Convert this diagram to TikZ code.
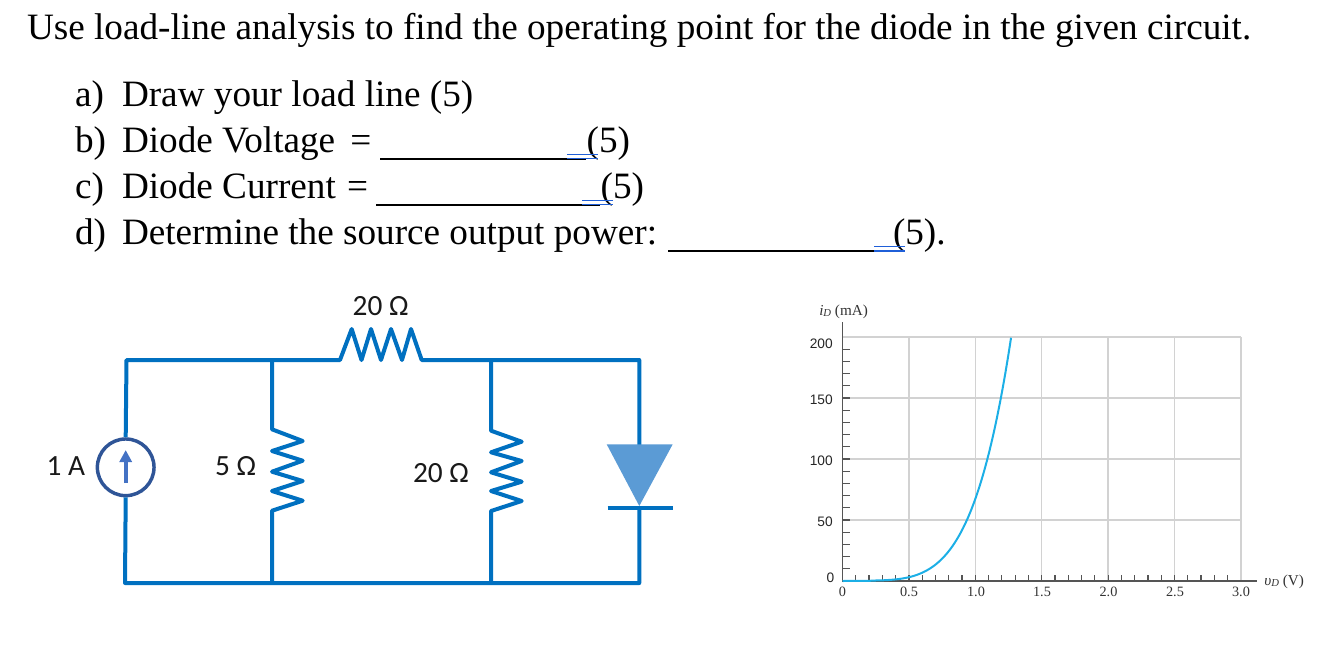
\documentclass[tikz,border=0pt]{standalone}
\usepackage{fontspec}
\setmainfont{Liberation Serif}
\newfontfamily\calfont{Carlito}
\newfontfamily\helvfont{Liberation Sans}
\usetikzlibrary{arrows.meta}
\definecolor{wireblue}{HTML}{0070C0}
\definecolor{ringblue}{HTML}{2F5597}
\definecolor{arrowblue}{HTML}{4472C4}
\definecolor{diodeblue}{HTML}{5B9BD5}
\definecolor{proofblue}{HTML}{1F5FD8}
\definecolor{gridgray}{HTML}{D2D2D2}
\definecolor{axisgray}{HTML}{555555}
\definecolor{curveblue}{HTML}{1CAFE6}
\tikzset{
  wire/.style={draw=wireblue,line width=3pt,line join=round},
  headline/.style={anchor=base west,inner sep=0pt,outer sep=0pt,font=\fontsize{27.9}{32}\selectfont},
  blank/.style={draw=black,line width=1.2pt},
  proof/.style={draw=proofblue,line width=0.8pt},
  cirlabel/.style={anchor=base west,inner sep=0pt,outer sep=0pt,font=\calfont\fontsize{22}{26}\selectfont,text=black!90},
  gridline/.style={draw=gridgray,line width=1.1pt},
  axisline/.style={draw=axisgray,line width=1.1pt},
  ylab/.style={anchor=base east,inner sep=0pt,font=\helvfont\fontsize{10.3}{12}\selectfont,text=black!85},
  xlab/.style={anchor=base,inner sep=0pt,font=\fontsize{10.7}{12}\selectfont,text=black!80},
  axlab/.style={anchor=base west,inner sep=0pt,font=\fontsize{11.4}{13}\selectfont,text=black!80},
}
\begin{document}
\begin{tikzpicture}[x=0.75pt,y=-0.75pt]
\useasboundingbox (0,0) rectangle (1340,658);
% ---------- text ----------
\node[headline] (title) at (27,39) {Use load-line analysis to find the operating point for the diode in the given circuit.};
\node[headline] (la) at (75,106) {a)};
\node[headline] (ta) at (122,106) {Draw your load line (5)};
\node[headline] (lb) at (75,152) {b)};
\node[headline] (tb) at (122,152) {Diode Voltage\hspace{4.5pt} =};
\node[headline] (pb) at (586.7,152) {(5)};
\node[headline] (lc) at (75,198) {c)};
\node[headline] (tc) at (122,198) {Diode Current\hspace{1.5pt} =};
\node[headline] (pc) at (600.7,198) {(5)};
\node[headline] (ld) at (75,244) {d)};
\node[headline] (td) at (122,244) {Determine the source output power:};
\node[headline] (pd) at (893,244) {(5).};
% blanks
\draw[blank] (380,159) -- (586,159);
\draw[blank] (376,205) -- (600,205);
\draw[blank] (668,251) -- (892.7,251);
\draw[proof] (567,154.3) -- (597.7,154.3) (567,158.7) -- (597.7,158.7);
\draw[proof] (582,200.3) -- (612.7,200.3) (582,204.7) -- (612.7,204.7);
\draw[proof] (874,246.3) -- (905,246.3) (874,251) -- (905,251);
% ---------- circuit ----------
\coordinate (tl) at (126.5,360);
\coordinate (bl) at (125,583);
\coordinate (j1t) at (272,360);
\coordinate (j1b) at (272,583);
\coordinate (j2t) at (491,360);
\coordinate (j2b) at (491,583);
\coordinate (tr) at (639.3,360);
\coordinate (br) at (639.3,583);
\coordinate (rta) at (340,360);
\coordinate (rtb) at (421.7,360);
\node[circle,draw=ringblue,line width=2.6pt,minimum size=42.5pt,inner sep=0pt] (src) at (125.7,467.3) {};
\coordinate (arrb) at (125.7,483);
\coordinate (arrt) at (125.7,450);
% wires
\draw[wire] (src.north) -- (tl) -- (rta)
  -- (351.7,329) -- (361.5,360) -- (371,329) -- (381,360) -- (391,329) -- (402,360) -- (411,329)
  -- (rtb) -- (tr) -- (639.3,445);
\draw[wire] (src.south) -- (bl) -- (br) -- (639.3,506);
\draw[wire] (j1t) -- (272,429.3) -- (302.7,441) -- (272,451) -- (302.7,460.7) -- (272,471.7) -- (302.7,481) -- (272,491) -- (302.7,500.7) -- (272,510.7) -- (j1b);
\draw[wire] (j2t) -- (491,430.7) -- (521.7,441.7) -- (491,452.3) -- (521.7,461) -- (491,472.3) -- (521.7,481.7) -- (491,491) -- (521.7,501) -- (491,511) -- (j2b);
% source arrow
\draw[draw=arrowblue,line width=3pt,-{Triangle[length=9pt,width=9pt]}] (arrb) -- (arrt);
% diode
\fill[diodeblue] (606.7,444.3) -- (672.7,444.3) -- (639.3,506) -- cycle;
\draw[wire] (607.7,508) -- (673,508);
% labels
\node[cirlabel] (l1a) at (46.5,475.7) {1 A};
\node[cirlabel] (l5) at (215,475.7) {5 Ω};
\node[cirlabel] (l20t) at (352.7,315.7) {20 Ω};
\node[cirlabel] (l20m) at (413,482.3) {20 Ω};
% ---------- plot ----------
\coordinate (o) at (842.5,581);
\foreach \v in {0.5,1,...,3}{
  \draw[gridline] ({842.5+132.8*\v},337) -- ({842.5+132.8*\v},581);
}
\foreach \m in {50,100,150,200}{
  \draw[gridline] (842.5,{581-1.22*\m}) -- (1241,{581-1.22*\m});
}
\foreach \t in {1,...,29}{
  \draw[axisline,line width=0.9pt] ({842.5+13.28*\t},581) -- ({842.5+13.28*\t},574.5);
}
\foreach \t in {1,...,19}{
  \draw[axisline,line width=0.9pt] (842.5,{581-12.2*\t}) -- (850,{581-12.2*\t});
}
\coordinate (ytop) at (842.5,322);
\coordinate (xend) at (1257,581);
\draw[axisline] (ytop) -- (o) -- (xend);
\draw[draw=curveblue,line width=1.5pt,line join=round] (o) -- (875,580.7) -- plot[domain=0.25:1.27,samples=70,smooth] ({842.5+132.8*\x},{581-1.22*(67*pow(\x,4.57)+0.3)});
\node[ylab] (y200) at (833,348.5) {200};
\node[ylab] (y150) at (833,404.5) {150};
\node[ylab] (y100) at (833,465.5) {100};
\node[ylab] (y50) at (833,526.5) {50};
\node[ylab] (y0) at (834.5,582) {0};
\node[xlab] (x0) at (842.5,596.7) {0};
\node[xlab] (x05) at (909,596.7) {0.5};
\node[xlab] (x10) at (976,596.7) {1.0};
\node[xlab] (x15) at (1042,596.7) {1.5};
\node[xlab] (x20) at (1108.5,596.7) {2.0};
\node[xlab] (x25) at (1175,596.7) {2.5};
\node[xlab] (x30) at (1241,596.7) {3.0};
\node[axlab] (ylabel) at (819,315) {\textit{i}\raisebox{-0.2ex}{\fontsize{8}{9}\selectfont\textit{D}} (mA)};
\node[axlab] (xlabel) at (1264,585) {\textit{υ}\raisebox{-0.2ex}{\fontsize{8}{9}\selectfont\textit{D}} (V)};
\end{tikzpicture}
\end{document}
